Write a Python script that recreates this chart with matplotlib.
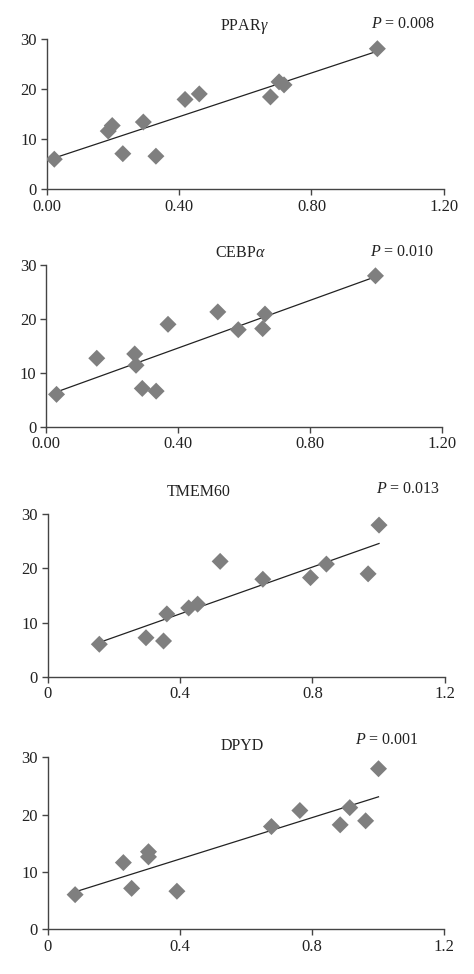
import numpy as np
import matplotlib
matplotlib.use("Agg")
import matplotlib.pyplot as plt
import matplotlib.ticker as ticker

plt.rcParams["font.family"] = ["Liberation Serif", "DejaVu Serif"]
plt.rcParams["mathtext.fontset"] = "custom"
plt.rcParams["mathtext.rm"] = "Liberation Serif"
plt.rcParams["mathtext.it"] = "Liberation Serif:italic"

# dependent values (same for all four genes)
ppar_x = [0.023, 0.186, 0.198, 0.230, 0.292, 0.330, 0.418, 0.461, 0.676, 0.702, 0.717, 0.999]
ppar_y = [6.0, 11.6, 12.7, 7.1, 13.4, 6.6, 17.9, 19.0, 18.4, 21.4, 20.8, 28.0]

cebp_x = [0.032, 0.154, 0.269, 0.273, 0.292, 0.334, 0.370, 0.521, 0.583, 0.657, 0.664, 0.999]
cebp_y = [6.0, 12.7, 13.5, 11.4, 7.1, 6.6, 19.0, 21.3, 18.0, 18.2, 20.9, 28.0]

tmem_x = [0.156, 0.297, 0.350, 0.360, 0.426, 0.453, 0.521, 0.650, 0.794, 0.842, 0.968, 1.001]
tmem_y = [6.0, 7.2, 6.6, 11.6, 12.7, 13.4, 21.3, 18.0, 18.3, 20.8, 19.0, 28.0]

dpyd_x = [0.083, 0.229, 0.254, 0.305, 0.305, 0.391, 0.677, 0.763, 0.885, 0.914, 0.962, 1.001]
dpyd_y = [6.0, 11.6, 7.1, 13.5, 12.6, 6.6, 17.9, 20.7, 18.2, 21.2, 18.9, 28.0]

gene_names = ["PPAR$\\mathit{\\gamma}$", "CEBP$\\mathit{\\alpha}$", "TMEM60", "DPYD"]
p_values = ["0.008", "0.010", "0.013", "0.001"]
x_tick_labels = [["0.00", "0.40", "0.80", "1.20"], ["0.00", "0.40", "0.80", "1.20"],
                 ["0", "0.4", "0.8", "1.2"], ["0", "0.4", "0.8", "1.2"]]

# panel layout in figure fractions: left, bottom, width, height
panels = [
    ([0.0985, 0.8056, 0.838, 0.1547], (0.515, 0.973), (0.850, 0.975)),
    ([0.0970, 0.5619, 0.835, 0.1660], (0.506, 0.740), (0.848, 0.741)),
    ([0.1006, 0.3052, 0.838, 0.1668], (0.418, 0.495), (0.861, 0.498)),
    ([0.1006, 0.0462, 0.8367, 0.1763], (0.511, 0.234), (0.816, 0.240)),
]

data = [(ppar_x, ppar_y), (cebp_x, cebp_y), (tmem_x, tmem_y), (dpyd_x, dpyd_y)]

fig = plt.figure(figsize=(4.74, 9.74), dpi=100)

for k, (xs, ys) in enumerate(data):
    rect, title_pos, p_pos = panels[k]
    ax = fig.add_axes(rect)
    xs = np.array(xs)
    ys = np.array(ys)

    # linear trendline
    slope, intercept = np.polyfit(xs, ys, 1)
    xl = np.array([xs.min(), xs.max()])
    ax.plot(xl, slope * xl + intercept, color="#222222", lw=0.9, zorder=2)

    ax.scatter(xs, ys, marker="D", s=75, color="#7f7f7f", edgecolors="none", zorder=3)

    ax.set_xlim(0, 1.2)
    ax.set_ylim(0, 30)
    ax.xaxis.set_major_locator(ticker.FixedLocator([0, 0.4, 0.8, 1.2]))
    ax.set_xticklabels(x_tick_labels[k])
    ax.yaxis.set_major_locator(ticker.MultipleLocator(10))

    for side in ["top", "right"]:
        ax.spines[side].set_visible(False)
    for side in ["left", "bottom"]:
        ax.spines[side].set_color("#444444")
        ax.spines[side].set_linewidth(1.0)
    ax.tick_params(direction="out", length=4, width=1.0, color="#444444",
                   labelsize=12, labelcolor="#222222", pad=3)

    fig.text(title_pos[0], title_pos[1], gene_names[k], ha="center", va="center",
             fontsize=11.5, color="#222222")
    fig.text(p_pos[0], p_pos[1], "$\\mathit{P}$ = " + p_values[k], ha="center", va="center",
             fontsize=11.5, color="#222222")

plt.savefig("out.png", dpi=100)
